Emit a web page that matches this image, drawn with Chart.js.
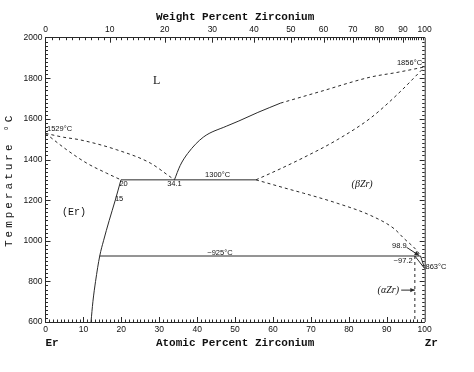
<!DOCTYPE html>
<html>
<head>
<meta charset="utf-8">
<script src="https://cdn.jsdelivr.net/npm/chart.js@4.4.1/dist/chart.umd.min.js"></script>
<style>
  body { margin: 0; background: #fff; }
  #wrap { width: 474px; height: 372px; position: relative; }
</style>
</head>
<body>
<div id="wrap"><canvas id="erZr"></canvas></div>
<script>
// Er-Zr phase diagram, x = at.% Zr, y = temperature in degC
const wtTicks = [0, 10, 20, 30, 40, 50, 60, 70, 80, 90, 100];
const atTicks = [0, 10, 20, 30, 40, 50, 60, 70, 80, 90, 100];
const tTicks = [600, 800, 1000, 1200, 1400, 1600, 1800, 2000];

// liquidus from Er side (dashed)
const liqErX = [0, 4.7, 9.1, 18.8, 27.6, 32.8, 34];
const liqErT = [1529, 1510, 1497, 1448, 1383, 1316, 1300];
// solidus of (Er) (dashed)
const solErX = [0, 5.6, 10.9, 16.1, 19.9];
const solErT = [1529, 1448, 1382, 1333, 1300];
// solvus of (Er)
const solvErX = [12.0, 12.5, 13.2, 14.3, 15.3, 16.8, 18.4, 19.9];
const solvErT = [600, 700, 800, 925, 1000, 1100, 1200, 1300];
// liquidus from Zr side, measured part
const liqZrX = [34, 35.5, 37.5, 41.6, 47.8, 51, 56, 62];
const liqZrT = [1300, 1370, 1430, 1510, 1565, 1590, 1632, 1678];
// liquidus from Zr side, estimated part (dashed)
const liqZr2X = [62, 72.5, 85.7, 92.7, 100];
const liqZr2T = [1678, 1735, 1806, 1829, 1856];
// solidus of (bZr) (dashed)
const solZrX = [55.5, 62, 68.1, 76.9, 85.7, 92.7, 100];
const solZrT = [1300, 1355, 1410, 1497, 1604, 1719, 1856];
// solvus of (bZr) (dashed)
const solvZrX = [55.5, 64.6, 68.1, 76.9, 85.7, 91.9, 94.5, 98.0, 98.9];
const solvZrT = [1300, 1252, 1234, 1185, 1125, 1060, 1012, 950, 925];
// invariant lines
const eutX = [19.9, 55.5], eutT = [1300, 1300];
const eutdX = [14.3, 98.9], eutdT = [925, 925];
// alpha / beta Zr boundaries
const betaX = [98.9, 100], betaT = [925, 863];
const alphaX = [97.4, 100], alphaT = [925, 863];
const alphaSolvX = [97.4, 97.4], alphaSolvT = [925, 600];

const MASS_ER = 167.26, MASS_ZR = 91.224;
function wtToAt(w) {
    if (w <= 0) return 0;
    if (w >= 100) return 100;
    const a = w / MASS_ZR, b = (100 - w) / MASS_ER;
    return 100 * a / (a + b);
}

const INK = '#2a2a2a';
const pts = (xs, ys) => xs.map((x, i) => ({ x: x, y: ys[i] }));
const line = (xs, ys, dashed, smooth) => ({
    data: pts(xs, ys), showLine: true, pointRadius: 0, borderColor: INK,
    borderWidth: 1, borderDash: dashed ? [3, 3] : [], fill: false,
    cubicInterpolationMode: smooth ? 'monotone' : 'default', tension: 0
});

const notes = [
    { t: 'L', x: 29.3, y: 1788, f: '12px "Liberation Serif"' },
    { t: '1529°C', x: 0.4, y: 1549, a: 'left' },
    { t: '1856°C', x: 99.3, y: 1876, a: 'right' },
    { t: '20', x: 20.6, y: 1278 },
    { t: '15', x: 19.4, y: 1204 },
    { t: '34.1', x: 34.0, y: 1278 },
    { t: '1300°C', x: 45.4, y: 1322 },
    { t: '(Er)', x: 7.5, y: 1140, f: '10px "Liberation Mono"' },
    { t: '~925°C', x: 46, y: 942 },
    { t: '(βZr)', x: 83.5, y: 1278, f: 'italic 10px "Liberation Serif"' },
    { t: '98.9', x: 93.3, y: 977 },
    { t: '~97.2', x: 94.3, y: 903 },
    { t: '863°C', x: 100.2, y: 871, a: 'left' },
    { t: '(αZr)', x: 90.4, y: 755, f: 'italic 10px "Liberation Serif"' }
];
const arrows = [
    { x0: 95.2, y0: 968, x1: 98.5, y1: 928 },
    { x0: 93.8, y0: 757, x1: 97.4, y1: 757 }
];

function arrowHead(ctx, x0, y0, x1, y1) {
    const ang = Math.atan2(y1 - y0, x1 - x0), len = 5, w = 0.45;
    ctx.beginPath();
    ctx.moveTo(x1, y1);
    ctx.lineTo(x1 - len * Math.cos(ang - w), y1 - len * Math.sin(ang - w));
    ctx.lineTo(x1 - len * Math.cos(ang + w), y1 - len * Math.sin(ang + w));
    ctx.closePath();
    ctx.fill();
}

const decor = {
    id: 'decor',
    afterDatasetsDraw(chart) {
        const ctx = chart.ctx, sx = chart.scales.x, sy = chart.scales.y;
        const a = chart.chartArea;
        ctx.save();
        ctx.strokeStyle = INK;
        ctx.fillStyle = INK;
        ctx.lineWidth = 1;
        // inward ticks on all four sides
        ctx.beginPath();
        for (let i = 1; i < 100; i++) {
            const px = Math.round(sx.getPixelForValue(i)) + 0.5;
            const L = i % 10 === 0 ? 5 : 2.5;
            ctx.moveTo(px, a.bottom); ctx.lineTo(px, a.bottom - L);
            const pw = Math.round(sx.getPixelForValue(wtToAt(i))) + 0.5;
            ctx.moveTo(pw, a.top); ctx.lineTo(pw, a.top + L);
        }
        for (let t = 620; t < 2000; t += 20) {
            const py = Math.round(sy.getPixelForValue(t)) + 0.5;
            const L = t % 200 === 0 ? 5 : 2.5;
            ctx.moveTo(a.left, py); ctx.lineTo(a.left + L, py);
            ctx.moveTo(a.right, py); ctx.lineTo(a.right - L, py);
        }
        ctx.stroke();
        // right border
        ctx.beginPath();
        ctx.moveTo(a.right + 0.5, a.top); ctx.lineTo(a.right + 0.5, a.bottom);
        ctx.stroke();
        // leader arrows
        arrows.forEach(r => {
            const x0 = sx.getPixelForValue(r.x0), y0 = sy.getPixelForValue(r.y0);
            const x1 = sx.getPixelForValue(r.x1), y1 = sy.getPixelForValue(r.y1);
            ctx.beginPath(); ctx.moveTo(x0, y0); ctx.lineTo(x1, y1); ctx.stroke();
            arrowHead(ctx, x0, y0, x1, y1);
        });
        // labels
        ctx.fillStyle = '#111';
        ctx.textBaseline = 'middle';
        notes.forEach(n => {
            ctx.font = n.f || '7.5px "Liberation Sans"';
            ctx.textAlign = n.a || 'center';
            ctx.fillText(n.t, sx.getPixelForValue(n.x), sy.getPixelForValue(n.y));
        });
        // axis titles
        const cx = (a.left + a.right) / 2;
        ctx.font = 'bold 11px "Liberation Mono"';
        ctx.textAlign = 'center';
        ctx.fillText('Weight Percent Zirconium', cx, 17);
        ctx.fillText('Atomic Percent Zirconium', cx, 343);
        ctx.textAlign = 'left';
        ctx.fillText('Er', a.left, 343);
        ctx.fillText('Zr', a.right, 343);
        ctx.save();
        ctx.translate(9, (a.top + a.bottom) / 2);
        ctx.rotate(-Math.PI / 2);
        ctx.textAlign = 'center';
        ctx.font = '11px "Liberation Mono"';
        ctx.letterSpacing = '3px';
        ctx.fillText('Temperature °C', 0, 0);
        ctx.restore();
        ctx.restore();
    }
};

const tickFont = { family: 'Liberation Sans', size: 8.5 };

new Chart(document.getElementById('erZr'), {
    type: 'scatter',
    data: {
        datasets: [
            line(liqErX, liqErT, true, true),
            line(solErX, solErT, true, true),
            line(solvErX, solvErT, false, true),
            line(liqZrX, liqZrT, false, true),
            line(liqZr2X, liqZr2T, true, true),
            line(solZrX, solZrT, true, true),
            line(solvZrX, solvZrT, true, true),
            line(eutX, eutT, false),
            line(eutdX, eutdT, false),
            line(betaX, betaT, false),
            line(alphaX, alphaT, false),
            line(alphaSolvX, alphaSolvT, true)
        ]
    },
    options: {
        responsive: true,
        maintainAspectRatio: false,
        animation: false,
        layout: { padding: { left: 0, right: 49.3, top: 0, bottom: 0 } },
        scales: {
            x: {
                type: 'linear', position: 'bottom', min: 0, max: 100,
                afterBuildTicks: s => { s.ticks = atTicks.map(v => ({ value: v })); },
                afterFit: s => { s.height = 50; },
                grid: { drawOnChartArea: false, drawTicks: false },
                border: { color: INK },
                ticks: { color: '#111', font: tickFont, padding: 3, autoSkip: false, maxRotation: 0 }
            },
            xw: {
                type: 'linear', position: 'top', min: 0, max: 100,
                afterBuildTicks: s => { s.ticks = wtTicks.map(w => ({ value: wtToAt(w) })); },
                afterFit: s => { s.height = 37.7; },
                grid: { drawOnChartArea: false, drawTicks: false },
                border: { color: INK },
                ticks: {
                    color: '#111', font: tickFont, padding: 3, autoSkip: false, maxRotation: 0,
                    callback: (v, i) => wtTicks[i]
                }
            },
            y: {
                type: 'linear', min: 600, max: 2000,
                afterBuildTicks: s => { s.ticks = tTicks.map(v => ({ value: v })); },
                afterFit: s => { s.width = 45.5; },
                grid: { drawOnChartArea: false, drawTicks: false },
                border: { color: INK },
                ticks: {
                    color: '#111', font: tickFont, padding: 3, autoSkip: false,
                    callback: (v, i) => String(tTicks[i])
                }
            }
        },
        plugins: { legend: { display: false }, tooltip: { enabled: false } }
    },
    plugins: [decor]
});
</script>
</body>
</html>
